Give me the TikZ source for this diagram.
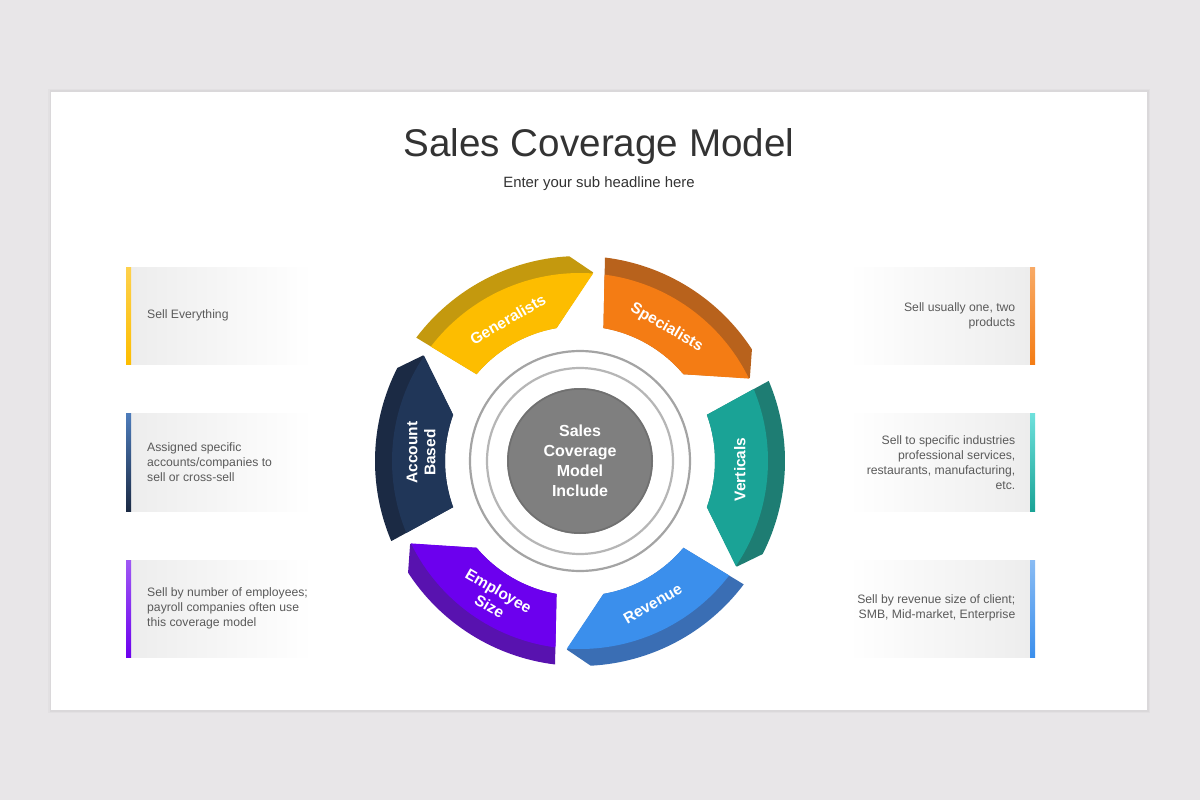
\documentclass[tikz,border=0pt]{standalone}
\usepackage{fontspec}
\setmainfont{Liberation Sans}
\definecolor{bgc}{HTML}{E8E6E8}
\definecolor{titlec}{HTML}{333333}
\definecolor{bodyc}{HTML}{5A5A5A}
\definecolor{boxg}{HTML}{EDEDED}
\definecolor{genF}{HTML}{FDBD00}\definecolor{genD}{HTML}{C4990E}
\definecolor{speF}{HTML}{F47C14}\definecolor{speD}{HTML}{B8621C}
\definecolor{verF}{HTML}{1AA396}\definecolor{verD}{HTML}{1E7D73}
\definecolor{revF}{HTML}{3B8FEC}\definecolor{revD}{HTML}{3A6EB4}
\definecolor{empF}{HTML}{6C00EE}\definecolor{empD}{HTML}{5812AF}
\definecolor{accF}{HTML}{203658}\definecolor{accD}{HTML}{1B2A44}
\definecolor{ringc}{HTML}{A4A4A4}
\definecolor{hubc}{HTML}{7F7F7F}
\newcommand\ringseg[3]{%
  \fill[#3] ({#1+20}:135) -- ({#1+23}:205) arc[start angle={#1+23}, end angle={#1-27}, radius=205]
     -- ({#1-34}:189) -- ({#1-20}:135) arc[start angle={#1-20}, end angle={#1+20}, radius=135] -- cycle;
  \fill[#2] ({#1+20}:135) -- ({#1+22.5}:188) arc[start angle={#1+22.5}, end angle={#1-34}, radius=188]
     -- ({#1-20}:135) arc[start angle={#1-20}, end angle={#1+20}, radius=135] -- cycle;
}
\begin{document}
\begin{tikzpicture}[x=1pt,y=-1pt,
  lbl/.style={text=white, font=\fontsize{15.5}{18}\selectfont\bfseries, align=center, inner sep=0pt},
  body/.style={text=bodyc, font=\fontsize{12.2}{15}\selectfont, inner sep=0pt},
]
\useasboundingbox (0,0) rectangle (1200,800);
\fill[bgc] (0,0) rectangle (1200,800);
\draw[black, opacity=0.025, line width=6pt] (51,92) rectangle (1147,710);
\draw[black, opacity=0.03, line width=3pt] (51,92) rectangle (1147,710);
\fill[white] (51,92) rectangle (1147,710);

% title
\node[anchor=base, text=titlec, font=\fontsize{38.6}{44}\selectfont, inner sep=0pt] (title) at (599,156) {Sales Coverage Model};
\node[anchor=base, text=titlec, font=\fontsize{14.9}{18}\selectfont, inner sep=0pt] (sub) at (599,187) {Enter your sub headline here};

% left boxes
\shade[left color=boxg, right color=white] (131,267) rectangle (312,364);
\shade[left color=boxg, right color=white] (131,413) rectangle (312,511);
\shade[left color=boxg, right color=white] (131,560) rectangle (312,657);
\shade[top color=genF!70!white, bottom color=genF] (126,267) rectangle (131,364);
\shade[top color=revD!90!white, bottom color=accD] (126,413) rectangle (131,511);
\shade[top color=empF!65!white, bottom color=empF] (126,560) rectangle (131,657);
\node[body, anchor=west, align=left] (t1) at (147,315.5) {Sell Everything};
\node[body, anchor=west, align=left] (t2) at (147,462) {Assigned specific\\accounts/companies to\\sell or cross-sell};
\node[body, anchor=west, align=left] (t3) at (147,608.5) {Sell by number of employees;\\payroll companies often use\\this coverage model};

% right boxes
\shade[left color=white, right color=boxg] (848,267) rectangle (1030,364);
\shade[left color=white, right color=boxg] (848,413) rectangle (1030,511);
\shade[left color=white, right color=boxg] (848,560) rectangle (1030,657);
\shade[top color=speF!65!white, bottom color=speF] (1030,267) rectangle (1035,364);
\shade[top color=verF!55!cyan!60!white, bottom color=verF] (1030,413) rectangle (1035,511);
\shade[top color=revF!60!white, bottom color=revF] (1030,560) rectangle (1035,657);
\node[body, anchor=east, align=right] (t4) at (1015.5,315.5) {Sell usually one, two\\products};
\node[body, anchor=east, align=right] (t5) at (1015.5,462.5) {Sell to specific industries\\professional services,\\restaurants, manufacturing,\\etc.};
\node[body, anchor=east, align=right] (t6) at (1015.5,608) {Sell by revenue size of client;\\SMB, Mid-market, Enterprise};

% cycle
\begin{scope}[shift={(580,461)}, y=1pt]
  \ringseg{120}{genF}{genD}
  \ringseg{60}{speF}{speD}
  \ringseg{0}{verF}{verD}
  \ringseg{-60}{revF}{revD}
  \ringseg{-120}{empF}{empD}
  \ringseg{180}{accF}{accD}
  \draw[ringc, line width=2.2pt] (0,0) circle[radius=110];
  \draw[ringc!80!white, line width=2.2pt] (0,0) circle[radius=93];
  \fill[hubc] (0,0) circle[radius=73];
  \draw[hubc!88!black, line width=1.5pt] (0,0) circle[radius=72];
  \node[text=white, font=\fontsize{16}{20}\selectfont\bfseries, align=center, inner sep=0pt] (hub) at (0,0) {Sales\\Coverage\\Model\\Include};
  \node[lbl, rotate=30] (lgen) at (117:159) {Generalists};
  \node[lbl, rotate=-30] (lspe) at (57:159) {Specialists};
  \node[lbl, rotate=90] (lver) at (-3:160) {Verticals};
  \node[lbl, rotate=30] (lrev) at (-63:160) {Revenue};
  \node[lbl, rotate=-30] (lemp) at (-122:162) {Employee\\Size};
  \node[lbl, rotate=90] (lacc) at (177:159) {Account\\Based};
\end{scope}
\end{tikzpicture}
\end{document}
